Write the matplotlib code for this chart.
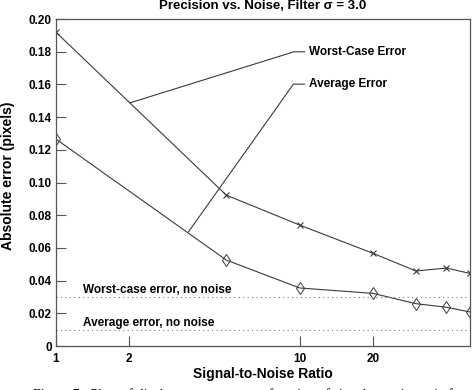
import numpy as np
import matplotlib
matplotlib.use("Agg")
import matplotlib.pyplot as plt

# values
snr = [1, 5, 10, 20, 30, 40, 50]
worst_err = [0.192, 0.0923, 0.074, 0.0567, 0.0459, 0.0477, 0.0444]
avg_err = [0.1266, 0.0526, 0.0355, 0.0322, 0.0259, 0.0237, 0.0208]
worst_no_noise = 0.030
avg_no_noise = 0.0095

x_ticks = [1, 2, 10, 20]
y_ticks = [0, 0.02, 0.04, 0.06, 0.08, 0.10, 0.12, 0.14, 0.16, 0.18, 0.20]
y_ticklabels = ["0", "0.02", "0.04", "0.06", "0.08", "0.10", "0.12", "0.14", "0.16", "0.18", "0.20"]

plt.rcParams['font.family'] = ['Liberation Sans', 'DejaVu Sans']
plt.rcParams['font.weight'] = 'bold'

col = '#3a3a3a'

fig = plt.figure(figsize=(4.74, 3.9), dpi=100)
ax = fig.add_axes([0.118, 0.1128, 0.8736, 0.8382])

ax.plot(snr, worst_err, color=col, lw=0.8, marker='x', ms=4, mew=0.8)
ax.plot(snr, avg_err, color=col, lw=0.8, marker='d', ms=6, mfc='none', mew=0.7)

ax.axhline(worst_no_noise, color='#777777', lw=0.8, ls=(0, (1, 3)))
ax.axhline(avg_no_noise, color='#777777', lw=0.8, ls=(0, (1, 3)))
ax.text(1.29, 0.0342, "Worst-case error, no noise", fontsize=8.5, fontweight='bold', va='center', ha='left')
ax.text(1.29, 0.0139, "Average error, no noise", fontsize=8.5, fontweight='bold', va='center', ha='left')

# leader labels
ax.annotate("Worst-Case Error", xy=(2.016, 0.1488), xytext=(10.9, 0.180),
            fontsize=8.5, fontweight='bold', va='center', ha='left',
            arrowprops=dict(arrowstyle='-', color=col, lw=0.8, shrinkA=1, shrinkB=0,
                            relpos=(0, 0.5), connectionstyle='angle,angleA=180,angleB=17.3,rad=0'))
ax.annotate("Average Error", xy=(3.50, 0.0699), xytext=(10.9, 0.1602),
            fontsize=8.5, fontweight='bold', va='center', ha='left',
            arrowprops=dict(arrowstyle='-', color=col, lw=0.8, shrinkA=1, shrinkB=0,
                            relpos=(0, 0.5), connectionstyle='angle,angleA=180,angleB=54.6,rad=0'))

ax.set_xscale('log')
ax.set_xlim(1, 50)
ax.set_ylim(0, 0.2)
ax.set_xticks(x_ticks)
ax.set_xticklabels([str(t) for t in x_ticks])
ax.xaxis.set_minor_locator(matplotlib.ticker.NullLocator())
ax.set_yticks(y_ticks)
ax.set_yticklabels(y_ticklabels)

ax.tick_params(axis='both', direction='in', length=7, width=0.8, color='#555555',
               labelsize=8.5, top=False, right=False)
ax.tick_params(axis='y', pad=3)
ax.tick_params(axis='x', pad=5)
for s in ax.spines.values():
    s.set_color('#555555')
    s.set_linewidth(0.9)

ax.set_title("Precision vs. Noise, Filter \u03c3 = 3.0", fontsize=9.5, fontweight='bold', pad=7)
ax.set_xlabel("Signal-to-Noise Ratio", fontsize=10, fontweight='bold')
ax.set_ylabel("Absolute error (pixels)", fontsize=10, fontweight='bold')
ax.xaxis.set_label_coords(0.5, -0.064)
ax.yaxis.set_label_coords(-0.1, 0.52)

# caption of the paper, cut off at the bottom edge
fig.text(0.07, -0.024, "Figure 7:  Plots of displacement error as a function of signal-to-noise ratio for",
         fontsize=10, family=['Liberation Serif', 'DejaVu Serif'], fontweight='normal', va='baseline')

fig.savefig("out.png", dpi=100)
